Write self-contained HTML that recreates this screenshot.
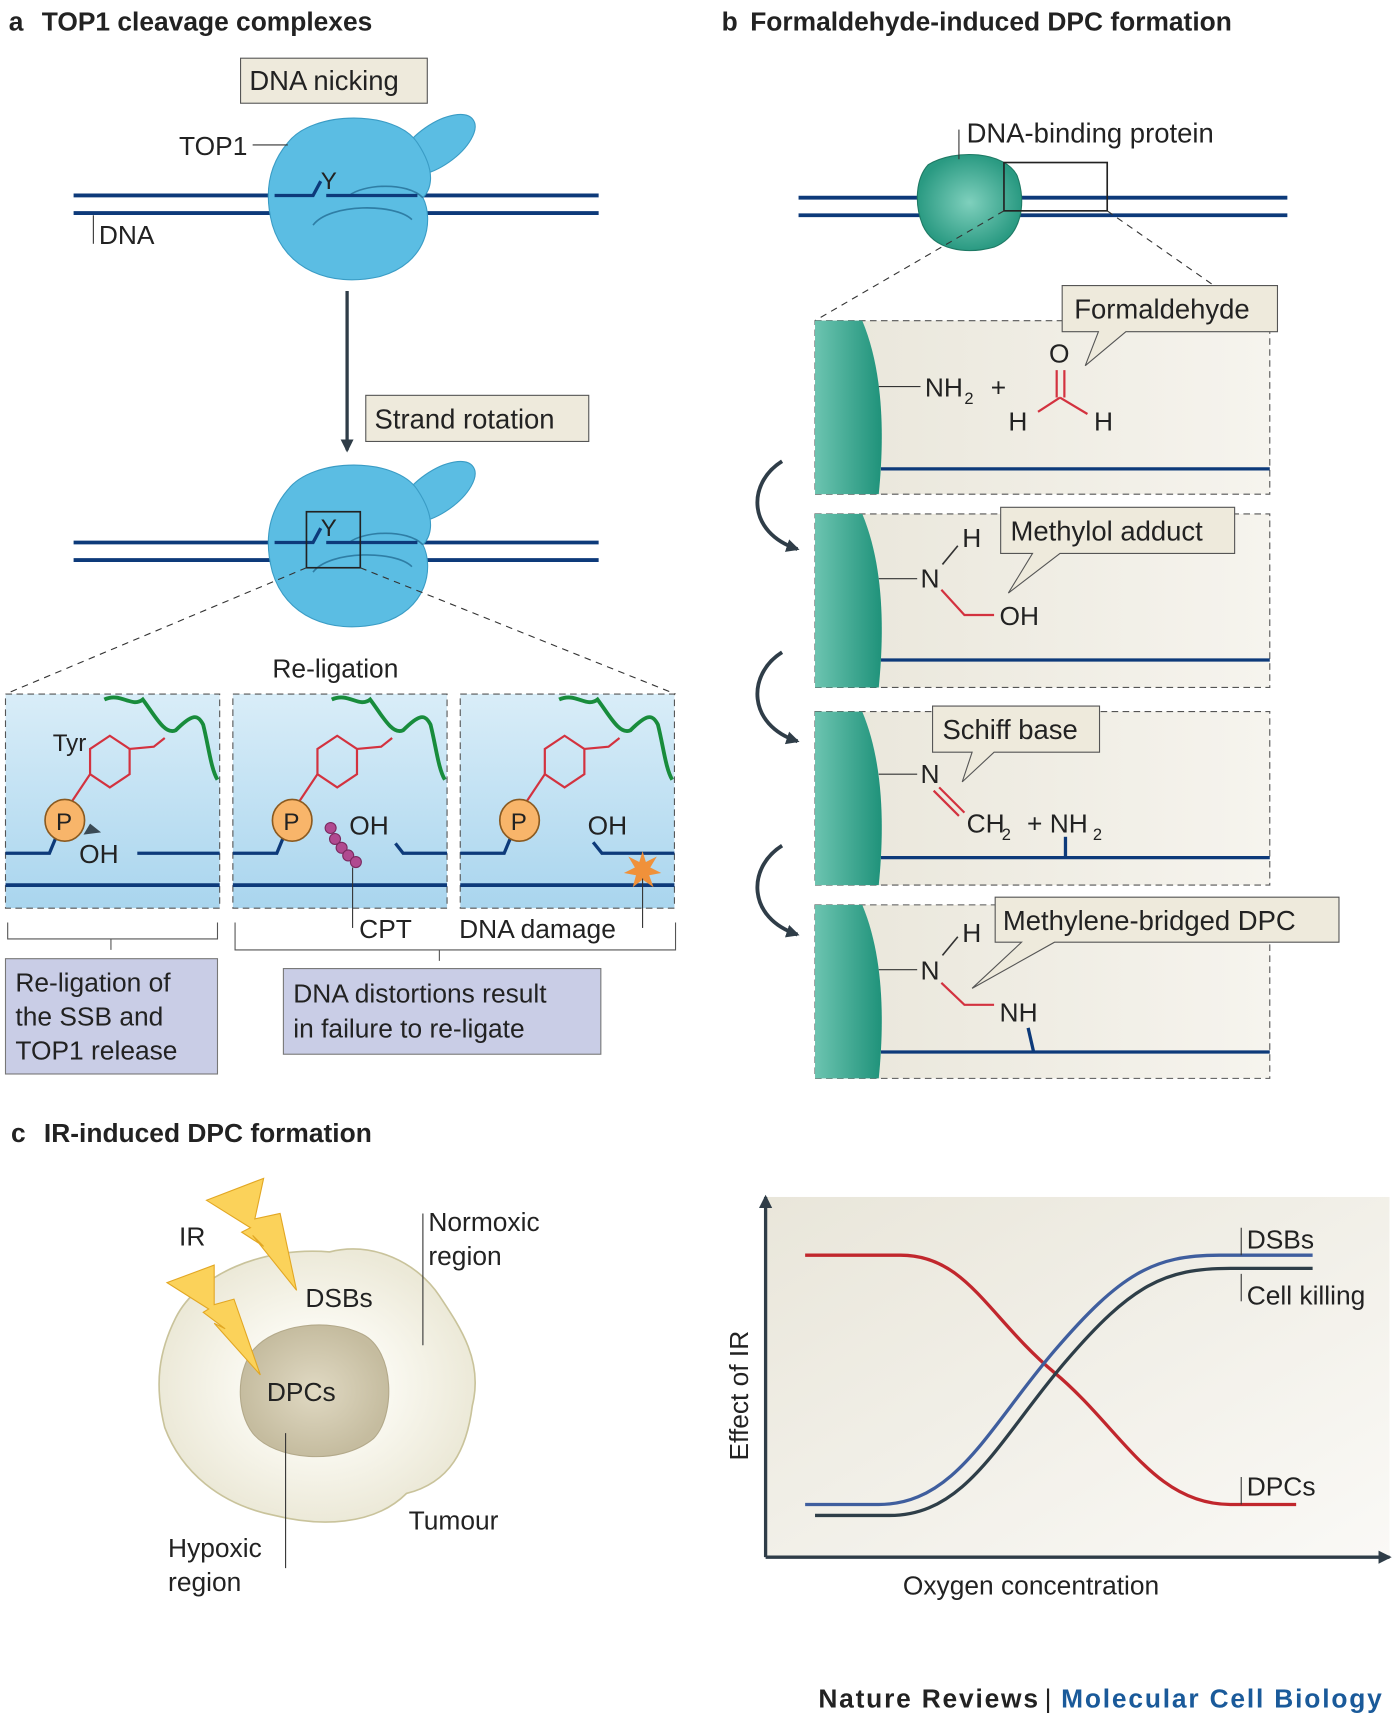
<!DOCTYPE html>
<html><head><meta charset="utf-8"><style>
html,body{margin:0;padding:0;background:#fff}
svg{display:block}
text{font-family:"Liberation Sans",sans-serif;fill:#222}
</style></head><body>
<svg width="1395" height="1723" viewBox="0 0 1270 1569" preserveAspectRatio="none" xmlns="http://www.w3.org/2000/svg">
<defs>
<linearGradient id="bl" x1="0" y1="0" x2="0" y2="1"><stop offset="0" stop-color="#d9edf8"/><stop offset="1" stop-color="#a9d5ee"/></linearGradient>
<linearGradient id="bg" x1="0" y1="0" x2="1" y2="0"><stop offset="0" stop-color="#e9e6da"/><stop offset="1" stop-color="#f6f4ee"/></linearGradient>
<linearGradient id="gr" x1="0" y1="0" x2="1" y2="0"><stop offset="0" stop-color="#6cc4b0"/><stop offset="1" stop-color="#1f927a"/></linearGradient>
<radialGradient id="gb" cx="0.5" cy="0.5" r="0.5"><stop offset="0" stop-color="#7fd0bd"/><stop offset="1" stop-color="#2a9a82"/></radialGradient>
<linearGradient id="gbg" x1="0" y1="0" x2="1" y2="1"><stop offset="0" stop-color="#e9e6da"/><stop offset="1" stop-color="#faf9f6"/></linearGradient>
<radialGradient id="tum" cx="0.5" cy="0.5" r="0.5"><stop offset="0.4" stop-color="#fbfaf3"/><stop offset="1" stop-color="#ece9d8"/></radialGradient>
<radialGradient id="hyp" cx="0.5" cy="0.5" r="0.5"><stop offset="0" stop-color="#e0d9c3"/><stop offset="1" stop-color="#c5bc9f"/></radialGradient>
<marker id="ah" markerUnits="userSpaceOnUse" markerWidth="14" markerHeight="14" refX="10" refY="7" orient="auto"><path d="M0,1 L12,7 L0,13 z" fill="#2f3d48"/></marker>
<marker id="ah2" markerUnits="userSpaceOnUse" markerWidth="20" markerHeight="20" refX="14" refY="10" orient="auto"><path d="M0,2 L18,10 L0,18 z" fill="#2f3d48"/></marker>
</defs>

<!-- Panel a -->
<text x="8" y="28" font-size="24" font-weight="bold">a</text>
<text x="38" y="28" font-size="24" font-weight="bold">TOP1 cleavage complexes</text>
<rect x="219" y="53" width="170" height="41" fill="#eeeadc" stroke="#555"/>
<text x="227" y="82" font-size="25">DNA nicking</text>

<g id="top1">
<line x1="67" y1="178" x2="545" y2="178" stroke="#0d3a7a" stroke-width="3.5"/>
<line x1="67" y1="194" x2="545" y2="194" stroke="#0d3a7a" stroke-width="3.5"/>
<ellipse cx="398" cy="132" rx="40" ry="19" transform="rotate(-35 398 132)" fill="#5bbde3" stroke="#3a9cc5"/>
<path d="M262,130 C285,100 360,100 380,130 C400,160 390,175 385,180 C395,200 390,240 345,252 C300,262 260,245 248,205 C240,175 245,150 262,130 z" fill="#5bbde3" stroke="#3a9cc5"/>
<path d="M285,205 C300,185 360,185 375,200" fill="none" stroke="#2f7ea5" stroke-width="1.5"/>
<path d="M385,180 C370,165 330,168 318,178" fill="none" stroke="#2f7ea5" stroke-width="1.5"/>
<path d="M250,178 L285,178 L292,165 M297,178 L380,178" fill="none" stroke="#0d3a7a" stroke-width="3"/>
<text x="292" y="172" font-size="22">Y</text>
</g>
<line x1="230" y1="132" x2="262" y2="132" stroke="#333"/>
<text x="163" y="141" font-size="24">TOP1</text>
<line x1="85" y1="196" x2="85" y2="222" stroke="#333"/>
<text x="90" y="222" font-size="24">DNA</text>

<line x1="316" y1="265" x2="316" y2="410" stroke="#2f3d48" stroke-width="3" marker-end="url(#ah)"/>
<rect x="333" y="360" width="203" height="42" fill="#eeeadc" stroke="#555"/>
<text x="341" y="390" font-size="25">Strand rotation</text>

<use href="#top1" transform="translate(0,316)"/>
<rect x="279" y="466" width="49" height="51" fill="none" stroke="#222" stroke-width="1.5"/>
<line x1="279" y1="517" x2="5" y2="632" stroke="#333" stroke-dasharray="6,5"/>
<line x1="328" y1="517" x2="615" y2="632" stroke="#333" stroke-dasharray="6,5"/>
<text x="248" y="617" font-size="24">Re-ligation</text>

<g id="pan">
<rect x="5" y="632" width="195" height="195" fill="url(#bl)" stroke="#555" stroke-dasharray="6,4"/>
<line x1="5" y1="806" x2="200" y2="806" stroke="#0d3a7a" stroke-width="3.5"/>
<path d="M95,637 C110,630 120,645 130,637 C140,650 150,670 160,665 C175,650 180,650 185,660 C190,680 192,700 198,710" fill="none" stroke="#188c3c" stroke-width="3.5"/>
<path d="M118,682 L140,680 L150,672" fill="none" stroke="#d3323f" stroke-width="2"/>
<polygon points="118,682 118,705 100,717 82,705 82,682 100,670" fill="none" stroke="#d3323f" stroke-width="2"/>
<line x1="82" y1="705" x2="62" y2="735" stroke="#d3323f" stroke-width="2"/>
<path d="M5,777 L45,777 L52,760" fill="none" stroke="#0d3a7a" stroke-width="3"/>
<ellipse cx="59" cy="747" rx="18" ry="19" fill="#f8b56a" stroke="#8a5a20" stroke-width="1.5"/>
<text x="51" y="756" font-size="22">P</text>
</g>
<path d="M125,777 L200,777" stroke="#0d3a7a" stroke-width="3"/>
<text x="72" y="786" font-size="24">OH</text>
<text x="48" y="684" font-size="22">Tyr</text>
<path d="M92,758 L82,750 L76,760 z" fill="#3a4a55"/>
<use href="#pan" transform="translate(207,0)"/>
<path d="M360,768 L367,777 L407,777" fill="none" stroke="#0d3a7a" stroke-width="3"/>
<text x="318" y="760" font-size="24">OH</text>
<g fill="#b04a90" stroke="#7a2a60"><circle cx="301" cy="754" r="5"/><circle cx="305" cy="764" r="5"/><circle cx="311" cy="772" r="5"/><circle cx="317" cy="779" r="5"/><circle cx="324" cy="785" r="5"/></g>
<line x1="321" y1="790" x2="321" y2="845" stroke="#333"/>
<text x="327" y="854" font-size="24">CPT</text>
<use href="#pan" transform="translate(414,0)"/>
<path d="M540,767 L548,777 L614,777" fill="none" stroke="#0d3a7a" stroke-width="3"/>
<text x="535" y="760" font-size="24">OH</text>
<polygon points="585,775 588,785 598,780 592,790 602,795 591,797 595,808 585,801 576,808 579,797 568,795 578,790 572,780 582,785" fill="#f0913a"/>
<line x1="585" y1="800" x2="585" y2="845" stroke="#333"/>
<text x="418" y="854" font-size="24">DNA damage</text>

<path d="M7,840 L7,855 L198,855 L198,840 M101,855 L101,865" fill="none" stroke="#555"/>
<path d="M214,840 L214,865 L615,865 L615,840 M400,865 L400,875" fill="none" stroke="#555"/>
<rect x="5" y="873" width="193" height="105" fill="#c9cde6" stroke="#777"/>
<text x="14" y="903" font-size="24">Re-ligation of</text>
<text x="14" y="934" font-size="24">the SSB and</text>
<text x="14" y="965" font-size="24">TOP1 release</text>
<rect x="258" y="882" width="289" height="78" fill="#c9cde6" stroke="#777"/>
<text x="267" y="913" font-size="24">DNA distortions result</text>
<text x="267" y="945" font-size="24">in failure to re-ligate</text>

<!-- Panel b -->
<text x="657" y="28" font-size="24" font-weight="bold">b</text>
<text x="683" y="28" font-size="24" font-weight="bold">Formaldehyde-induced DPC formation</text>
<line x1="727" y1="180" x2="1172" y2="180" stroke="#0d3a7a" stroke-width="3.5"/>
<line x1="727" y1="196" x2="1172" y2="196" stroke="#0d3a7a" stroke-width="3.5"/>
<path d="M845,150 C870,135 915,138 926,160 C935,185 930,215 905,225 C880,232 850,228 840,205 C832,185 834,162 845,150 z" fill="url(#gb)" stroke="#1e7a65"/>
<rect x="914" y="148" width="94" height="44" fill="none" stroke="#222" stroke-width="1.5"/>
<line x1="873" y1="118" x2="873" y2="145" stroke="#333"/>
<text x="880" y="130" font-size="25">DNA-binding protein</text>
<line x1="914" y1="192" x2="742" y2="292" stroke="#333" stroke-dasharray="6,5"/>
<line x1="1008" y1="192" x2="1108" y2="262" stroke="#333" stroke-dasharray="6,5"/>

<g id="bp">
<rect x="742" y="292" width="414" height="158" fill="url(#bg)" stroke="#555" stroke-dasharray="6,4"/>
<path d="M742,292 L785,292 C805,340 805,400 800,450 L742,450 z" fill="url(#gr)"/>
</g>
<line x1="802" y1="427" x2="1156" y2="427" stroke="#0d3a7a" stroke-width="3"/>
<line x1="800" y1="352" x2="838" y2="352" stroke="#333"/>
<text x="842" y="361" font-size="24">NH</text><text x="878" y="368" font-size="15">2</text><text x="902" y="361" font-size="24">+</text>
<text x="955" y="330" font-size="24">O</text>
<path d="M962,337 L962,362 M969,337 L969,362 M965,362 L945,375 M965,362 L990,377" fill="none" stroke="#d3323f" stroke-width="2"/>
<text x="918" y="392" font-size="24">H</text><text x="996" y="392" font-size="24">H</text>
<path d="M967,260 L1163,260 L1163,302 L1025,302 L988,333 L1000,302 L967,302 z" fill="#eeeadc" stroke="#555"/>
<text x="978" y="290" font-size="25">Formaldehyde</text>

<use href="#bp" transform="translate(0,176)"/>
<line x1="802" y1="601" x2="1156" y2="601" stroke="#0d3a7a" stroke-width="3"/>
<line x1="800" y1="527" x2="835" y2="527" stroke="#333"/>
<text x="838" y="535" font-size="24">N</text>
<path d="M858,514 L872,497" stroke="#333" stroke-width="1.5"/>
<text x="876" y="498" font-size="24">H</text>
<path d="M857,537 L878,560 L905,560" fill="none" stroke="#d3323f" stroke-width="2"/>
<text x="910" y="569" font-size="24">OH</text>
<path d="M911,462 L1124,462 L1124,504 L965,504 L918,540 L940,504 L911,504 z" fill="#eeeadc" stroke="#555"/>
<text x="920" y="492" font-size="25">Methylol adduct</text>

<use href="#bp" transform="translate(0,356)"/>
<line x1="802" y1="781" x2="1156" y2="781" stroke="#0d3a7a" stroke-width="3"/>
<line x1="970" y1="762" x2="970" y2="781" stroke="#0d3a7a" stroke-width="3"/>
<line x1="800" y1="705" x2="835" y2="705" stroke="#333"/>
<text x="838" y="713" font-size="24">N</text>
<path d="M855,717 L878,740 M850,720 L873,743" stroke="#d3323f" stroke-width="2"/>
<text x="880" y="758" font-size="24">CH</text><text x="912" y="765" font-size="15">2</text>
<text x="935" y="758" font-size="24">+ NH</text><text x="995" y="765" font-size="15">2</text>
<path d="M849,643 L1001,643 L1001,685 L905,685 L876,712 L885,685 L849,685 z" fill="#eeeadc" stroke="#555"/>
<text x="858" y="673" font-size="25">Schiff base</text>

<use href="#bp" transform="translate(0,532)"/>
<line x1="802" y1="958" x2="1156" y2="958" stroke="#0d3a7a" stroke-width="3"/>
<line x1="936" y1="936" x2="941" y2="958" stroke="#0d3a7a" stroke-width="3"/>
<line x1="800" y1="883" x2="835" y2="883" stroke="#333"/>
<text x="838" y="892" font-size="24">N</text>
<path d="M858,870 L872,853" stroke="#333" stroke-width="1.5"/>
<text x="876" y="858" font-size="24">H</text>
<path d="M857,895 L878,915 L905,915" fill="none" stroke="#d3323f" stroke-width="2"/>
<text x="910" y="930" font-size="24">NH</text>
<path d="M906,817 L1219,817 L1219,858 L960,858 L885,900 L930,858 L906,858 z" fill="#eeeadc" stroke="#555"/>
<text x="913" y="847" font-size="25">Methylene-bridged DPC</text>

<g fill="none" stroke="#2f3d48" stroke-width="3.5">
<path d="M712,420 C680,440 680,485 726,500" marker-end="url(#ah)"/>
<path d="M712,594 C680,614 680,660 726,675" marker-end="url(#ah)"/>
<path d="M712,770 C680,790 680,836 726,851" marker-end="url(#ah)"/>
</g>

<!-- Panel c -->
<text x="10" y="1040" font-size="24" font-weight="bold">c</text>
<text x="40" y="1040" font-size="24" font-weight="bold">IR-induced DPC formation</text>
<path d="M160,1200 C180,1160 240,1135 300,1140 C340,1130 380,1150 400,1180 C420,1210 440,1240 430,1280 C425,1320 410,1350 370,1360 C340,1390 290,1390 250,1380 C200,1370 165,1340 150,1300 C140,1260 145,1230 160,1200 z" fill="url(#tum)" stroke="#c9c39b" stroke-width="1.5"/>
<path d="M230,1230 C250,1205 300,1200 330,1215 C360,1230 360,1290 340,1310 C310,1335 250,1330 230,1305 C215,1285 215,1250 230,1230 z" fill="url(#hyp)" stroke="#b3a98a"/>
<polygon points="188,1093 240,1073 232,1110 255,1105 270,1175 230,1125 240,1135 220,1122 228,1118" fill="#fbd25a" stroke="#e2a723"/>
<polygon points="152,1168 195,1152 195,1188 213,1183 237,1252 195,1205 205,1210 185,1195 190,1192" fill="#fbd25a" stroke="#e2a723"/>
<text x="163" y="1134" font-size="24">IR</text>
<text x="278" y="1190" font-size="24">DSBs</text>
<text x="243" y="1276" font-size="24">DPCs</text>
<line x1="385" y1="1105" x2="385" y2="1225" stroke="#333"/>
<text x="390" y="1121" font-size="24">Normoxic</text>
<text x="390" y="1152" font-size="24">region</text>
<text x="372" y="1393" font-size="24">Tumour</text>
<line x1="260" y1="1305" x2="260" y2="1428" stroke="#333"/>
<text x="153" y="1418" font-size="24">Hypoxic</text>
<text x="153" y="1449" font-size="24">region</text>

<rect x="697" y="1090" width="568" height="328" fill="url(#gbg)"/>
<line x1="697" y1="1418" x2="697" y2="1090" stroke="#2f3d48" stroke-width="3" marker-end="url(#ah)"/>
<line x1="697" y1="1418" x2="1265" y2="1418" stroke="#2f3d48" stroke-width="3" marker-end="url(#ah)"/>
<path d="M733,1143 L820,1143 C880,1143 900,1200 960,1250 C1020,1300 1050,1370 1120,1370 L1180,1370" fill="none" stroke="#c1272d" stroke-width="3"/>
<path d="M733,1370 L800,1370 C870,1370 900,1300 960,1230 C1020,1160 1050,1143 1110,1143 L1195,1143" fill="none" stroke="#3f5e9e" stroke-width="3"/>
<path d="M742,1380 L810,1380 C880,1380 910,1310 970,1240 C1030,1170 1060,1155 1120,1155 L1195,1155" fill="none" stroke="#2e3e48" stroke-width="3"/>
<line x1="1130" y1="1118" x2="1130" y2="1143" stroke="#333"/>
<text x="1135" y="1137" font-size="24">DSBs</text>
<line x1="1130" y1="1160" x2="1130" y2="1185" stroke="#333"/>
<text x="1135" y="1188" font-size="24">Cell killing</text>
<line x1="1130" y1="1345" x2="1130" y2="1370" stroke="#333"/>
<text x="1135" y="1362" font-size="24">DPCs</text>
<text transform="translate(681,1330) rotate(-90)" font-size="24">Effect of IR</text>
<text x="822" y="1452" font-size="24">Oxygen concentration</text>

<text x="745" y="1555" font-size="24" font-weight="bold" textLength="200">Nature Reviews</text>
<text x="951" y="1555" font-size="24" fill="#555">|</text>
<text x="966" y="1555" font-size="24" font-weight="bold" style="fill:#1a5a9a" textLength="292">Molecular Cell Biology</text>
</svg>
</body></html>
